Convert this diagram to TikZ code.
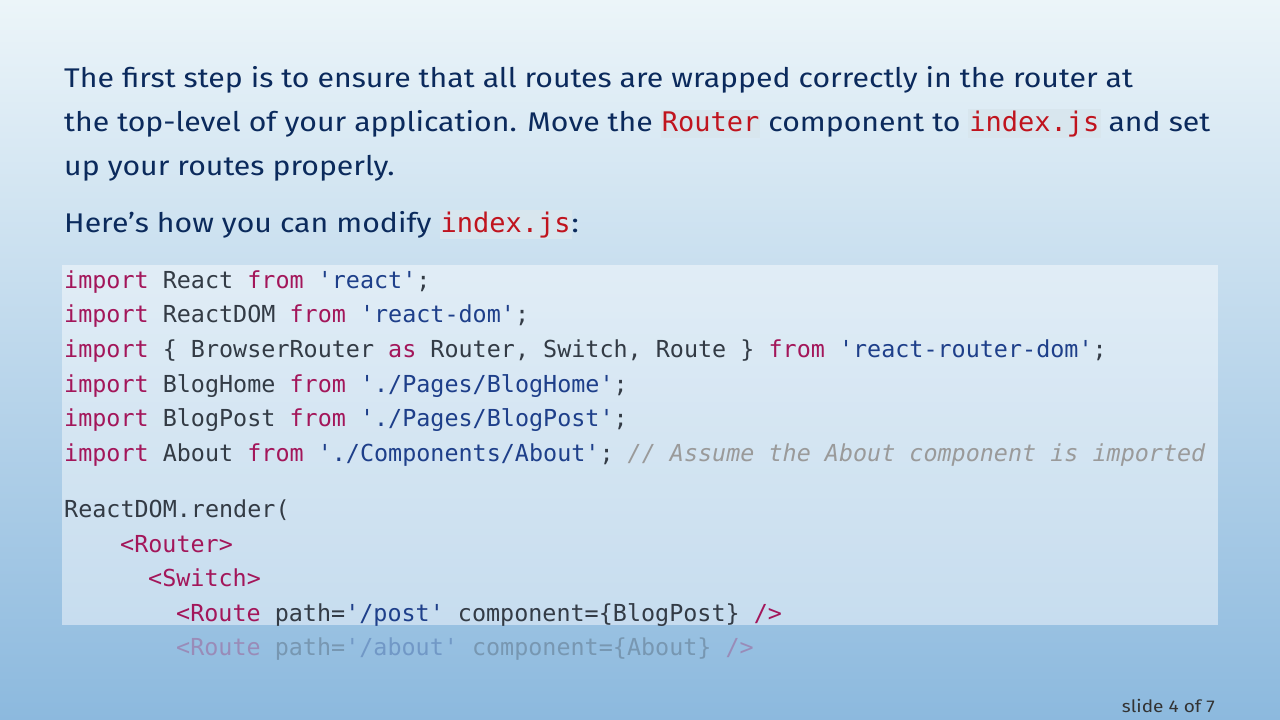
\documentclass[tikz,border=0pt]{standalone}
\usepackage{fontspec}
\setmainfont[FakeStretch=1.12]{Fira Sans}
\setmonofont{DejaVu Sans Mono}
\usetikzlibrary{positioning}
\definecolor{txt}{HTML}{0B2A5C}
\definecolor{kw}{HTML}{A3165A}
\definecolor{idn}{HTML}{333B45}
\definecolor{str}{HTML}{1E3F8A}
\definecolor{cmt}{HTML}{9A9A9A}
\definecolor{inl}{HTML}{C0141E}
\definecolor{inlbg}{HTML}{D8E6EE}
\newcommand{\K}[1]{\textcolor{kw}{#1}}
\newcommand{\St}[1]{\textcolor{str}{#1}}
\newcommand{\C}[1]{{\setlength{\fboxsep}{1pt}\colorbox{inlbg}{\textcolor{inl}{\ttfamily\vphantom{Ay}#1}}}}
\tikzset{
  para/.style={anchor=base west,font=\fontsize{27}{30}\selectfont,text=txt,inner sep=0},
  code/.style={anchor=base west,font=\fontsize{23.4}{28}\ttfamily,text=idn,inner sep=0},
}
\begin{document}
\begin{tikzpicture}[x=1pt,y=-1pt]
\useasboundingbox (0,0) rectangle (1280,720);
\shade[top color={rgb,255:red,236;green,245;blue,249},bottom color={rgb,255:red,140;green,185;blue,222}] (0,0) rectangle (1280,720);
\fill[white,opacity=0.45] (62,265) rectangle (1218,625);
\node[para] (p1) at (64,87) {The first step is to ensure that all routes are wrapped correctly in the router at};
\node[para] (p2) at (64,131) {the top-level of your application. Move the \C{Router} component to \C{index.js} and set};
\node[para] (p3) at (64,175) {up your routes properly.};
\node[para] (p4) at (64,232) {Here's how you can modify \C{index.js}:};
\node[code] (c1) at (64,288) {\K{import} React \K{from} \St{'react'};};
\node[code] (c2) at (64,322) {\K{import} ReactDOM \K{from} \St{'react-dom'};};
\node[code] (c3) at (64,357) {\K{import} \{ BrowserRouter \K{as} Router, Switch, Route \} \K{from} \St{'react-router-dom'};};
\node[code] (c4) at (64,392) {\K{import} BlogHome \K{from} \St{'./Pages/BlogHome'};};
\node[code] (c5) at (64,426) {\K{import} BlogPost \K{from} \St{'./Pages/BlogPost'};};
\node[code] (c6) at (64,461) {\K{import} About \K{from} \St{'./Components/About'}; \textcolor{cmt}{\itshape // Assume the About component is imported}};
\node[code] (c7) at (64,517) {ReactDOM.render(};
\node[code] (c8) at (120,552) {\K{<Router>}};
\node[code] (c9) at (148,586) {\K{<Switch>}};
\node[code] (c10) at (176,621) {\K{<Route} path=\St{'/post'} component=\{BlogPost\} \K{/>}};
\node[code,opacity=0.3] (c11) at (176,655) {\K{<Route} path=\St{'/about'} component=\{About\} \K{/>}};
\node[anchor=base east,inner sep=0,font=\fontsize{17}{20}\selectfont,text=black!80] (sl) at (1215,712) {slide 4 of 7};
\end{tikzpicture}
\end{document}
